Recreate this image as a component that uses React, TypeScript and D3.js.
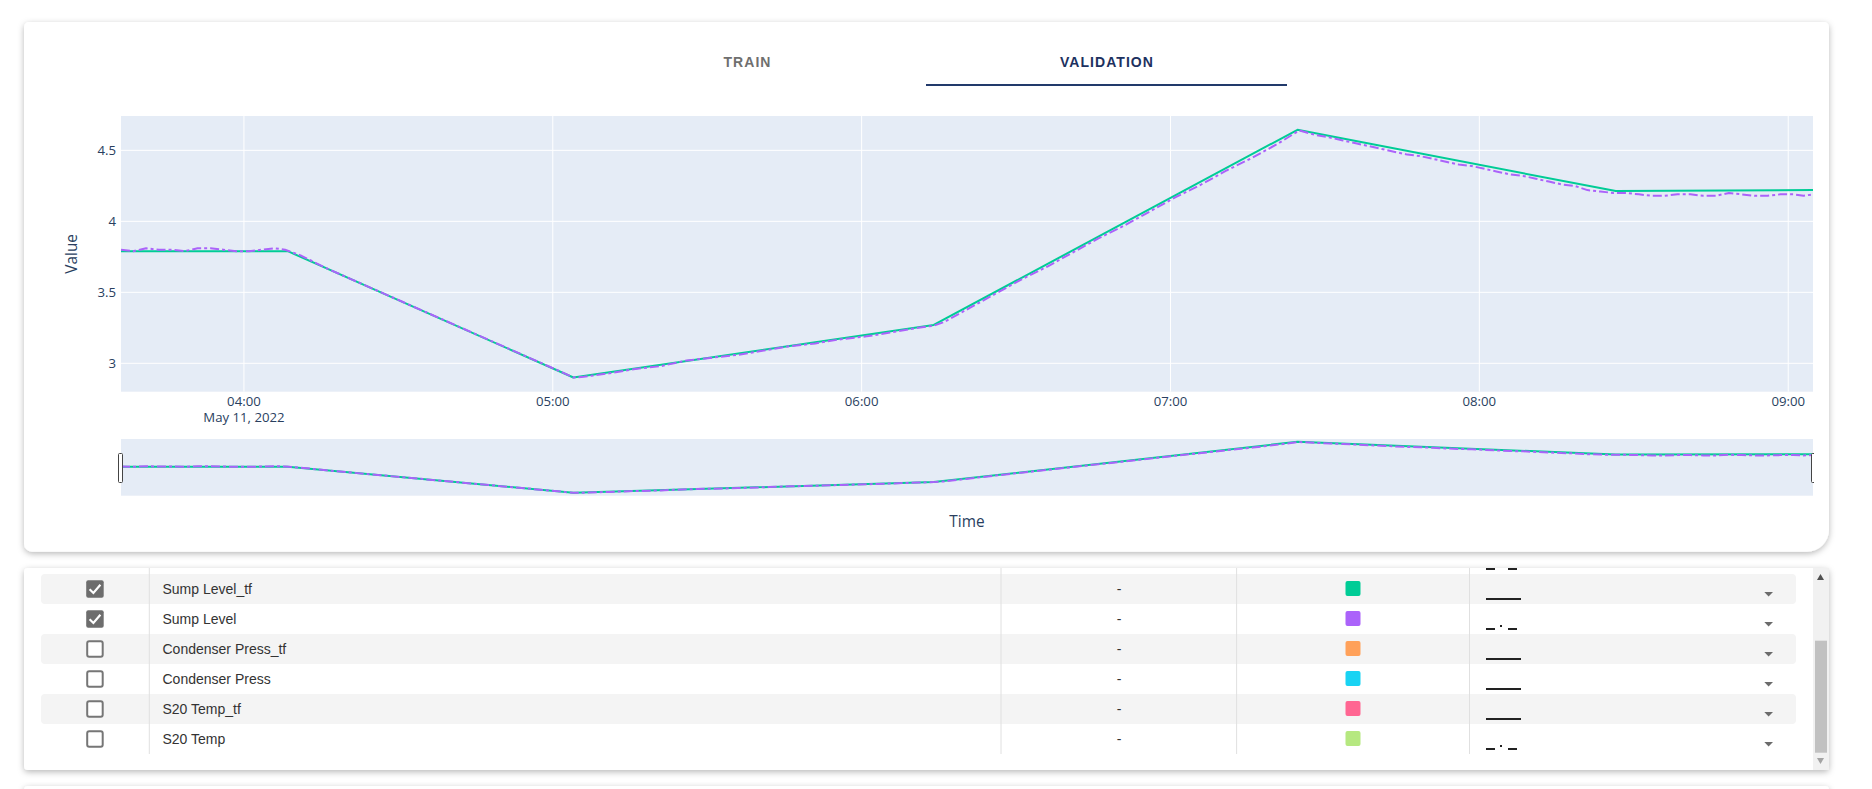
import React from 'react';
import * as d3 from 'd3';

// ---- chart data ----
const tfTimes = ['03:36:07', '04:08:30', '05:04:00', '06:14:00', '07:24:40', '08:26:30', '09:04:49'];
const tfValues = [3.79, 3.79, 2.9, 3.27, 4.645, 4.213, 4.221];

const rawTimes = [
  '03:36:07', '03:38:30', '03:41', '03:43:30', '03:46', '03:48:30', '03:51', '03:53:30', '03:56', '03:58:30',
  '04:01', '04:03:30', '04:06', '04:08', '04:11', '04:16', '04:21',
  '04:26', '04:31', '04:36', '04:41', '04:46', '04:51', '04:56', '05:01', '05:04', '05:06', '05:11',
  '05:16', '05:21', '05:26', '05:31', '05:36', '05:41', '05:46', '05:51', '05:56', '06:01', '06:06',
  '06:11', '06:14', '06:16', '06:21', '06:26', '06:31', '06:36', '06:41', '06:46', '06:51', '06:56',
  '07:01', '07:06', '07:11', '07:16', '07:21', '07:25', '07:28', '07:31', '07:33:30', '07:36', '07:38:30',
  '07:41', '07:46', '07:48:30', '07:51', '07:53:30', '07:56', '07:58:30', '08:01', '08:03:30', '08:06',
  '08:08:30', '08:11', '08:13:30', '08:16', '08:18:30', '08:21', '08:23:30', '08:26', '08:28:30', '08:31',
  '08:33:30', '08:36', '08:38:30', '08:41', '08:43:30', '08:46', '08:48:30', '08:51', '08:53:30', '08:56',
  '08:58:30', '09:01', '09:03', '09:04:49',
];
const rawValues = [
  3.8, 3.79, 3.81, 3.8, 3.8, 3.79, 3.81, 3.81, 3.8, 3.79,
  3.79, 3.8, 3.81, 3.8, 3.76, 3.67, 3.59,
  3.51, 3.43, 3.35, 3.27, 3.19, 3.11, 3.03, 2.95, 2.9, 2.905, 2.93,
  2.96, 2.98, 3.02, 3.04, 3.06, 3.09, 3.12, 3.14, 3.17, 3.19, 3.22,
  3.25, 3.265, 3.29, 3.39, 3.49, 3.59, 3.68, 3.78, 3.88, 3.97, 4.07,
  4.17, 4.26, 4.36, 4.45, 4.55, 4.64, 4.61, 4.59, 4.57, 4.55, 4.53,
  4.51, 4.47, 4.46, 4.44, 4.42, 4.4, 4.39, 4.37, 4.35, 4.33,
  4.32, 4.3, 4.28, 4.26, 4.25, 4.22, 4.21, 4.2, 4.2, 4.19,
  4.18, 4.18, 4.19, 4.19, 4.18, 4.18, 4.2, 4.19, 4.18, 4.18,
  4.19, 4.19, 4.18, 4.19,
];

const yDomain = [2.8, 4.742];
const yTicks = [3, 3.5, 4, 4.5];
const dateLabel = 'May 11, 2022';

// ---- table data ----
const rowNames = ['', 'Sump Level_tf', 'Sump Level', 'Condenser Press_tf', 'Condenser Press', 'S20 Temp_tf', 'S20 Temp'];
const rowChecked = [false, true, true, false, false, false, false];
const rowColors = ['#ffffff', '#00cc96', '#ab63fa', '#ffa15a', '#19d3f3', '#ff6692', '#b6e880'];
const rowStyles = ['dash', 'solid', 'dashdot', 'solid', 'solid', 'solid', 'dashdot'];
const tabs = ['TRAIN', 'VALIDATION'];

const parse = (s: string) => {
  const full = s.length === 5 ? s + ':00' : s;
  return d3.timeParse('%Y-%m-%d %H:%M:%S')('2022-05-11 ' + full) as Date;
};

const roundedRect = (x: number, y: number, w: number, h: number, r: number[]) => {
  const [tl, tr, br, bl] = r;
  return `M${x + tl},${y} H${x + w - tr} A${tr},${tr} 0 0 1 ${x + w},${y + tr} V${y + h - br} A${br},${br} 0 0 1 ${x + w - br},${y + h} H${x + bl} A${bl},${bl} 0 0 1 ${x},${y + h - bl} V${y + tl} A${tl},${tl} 0 0 1 ${x + tl},${y} Z`;
};

const plotFont = '"Open Sans", verdana, arial, sans-serif';
const tableFont = '"Liberation Sans", Arial, sans-serif';

const App: React.FC = () => {
  const tf = tfTimes.map((t, i) => ({ t: parse(t), v: tfValues[i] }));
  const raw = rawTimes.map((t, i) => ({ t: parse(t), v: rawValues[i] }));

  const left = 121, right = 1813, top = 116, bottom = 391.7;
  const rsTop = 439, rsBottom = 495.7;

  const x = d3.scaleTime().domain(d3.extent(tf, d => d.t) as [Date, Date]).range([left, right]);
  const y = d3.scaleLinear().domain(yDomain).range([bottom, top]);
  const yRs = d3.scaleLinear().domain(yDomain).range([rsBottom, rsTop]);

  const line = d3.line<{ t: Date; v: number }>().x(d => x(d.t)).y(d => y(d.v));
  const lineRs = d3.line<{ t: Date; v: number }>().x(d => x(d.t)).y(d => yRs(d.v));
  const xTicks = x.ticks(d3.timeHour.every(1) as d3.TimeInterval);
  const fmt = d3.timeFormat('%H:%M');

  const rowTop0 = 544;
  const colLines = [149.3, 1001, 1236.6, 1469.5];

  return (
    <svg width={1872} height={789} style={{ position: 'absolute', left: 0, top: 0 }}>
      <defs>
        <filter id="shadow" x="-3%" y="-10%" width="106%" height="125%">
          <feDropShadow dx="0" dy="2" stdDeviation="3" floodColor="#000" floodOpacity="0.28" />
        </filter>
        <clipPath id="plotClip"><rect x={left} y={top} width={right - left} height={bottom - top} /></clipPath>
        <clipPath id="rsClip"><rect x={left} y={rsTop} width={right - left} height={rsBottom - rsTop} /></clipPath>
        <clipPath id="tableClip"><rect x={24} y={568} width={1805} height={202} /></clipPath>
      </defs>
      <rect width={1872} height={789} fill="#ffffff" />

      {/* chart card */}
      <path d={roundedRect(24, 22, 1805, 529.7, [5, 5, 22, 8])} fill="#fff" filter="url(#shadow)" />

      {tabs.map((t, i) => (
        <text key={t} x={i === 0 ? 747.5 : 1107} y={67.3} textAnchor="middle" fontFamily={tableFont}
          fontWeight="bold" fontSize={14} letterSpacing={1.05} fill={i === 0 ? '#6f6f6f' : '#1d3160'}>{t}</text>
      ))}
      <rect x={926} y={84} width={361} height={2} fill="#223a6b" />

      {/* main plot */}
      <rect x={left} y={top} width={right - left} height={bottom - top} fill="#e5ecf6" />
      {yTicks.map(v => (
        <line key={v} x1={left} x2={right} y1={y(v)} y2={y(v)} stroke="#fff" strokeWidth={1} />
      ))}
      {xTicks.map(t => (
        <line key={+t} x1={x(t)} x2={x(t)} y1={top} y2={bottom} stroke="#fff" strokeWidth={1} />
      ))}
      <g clipPath="url(#plotClip)" fill="none">
        <path d={line(tf) || ''} stroke="#00cc96" strokeWidth={2} strokeLinejoin="round" />
        <path d={line(raw) || ''} stroke="#ab63fa" strokeWidth={2} strokeDasharray="9,3,3,3" strokeLinejoin="round" />
      </g>
      {yTicks.map(v => (
        <text key={v} x={116} y={y(v) + 4.6} textAnchor="end" fontFamily={plotFont} fontSize={13.2} fill="#2a3f5f">{String(v)}</text>
      ))}
      {xTicks.map((t, i) => (
        <g key={+t}>
          <text x={x(t)} y={405.5} textAnchor="middle" fontFamily={plotFont} fontSize={13.2} fill="#2a3f5f">{fmt(t)}</text>
          {i === 0 && (
            <text x={x(t)} y={421.5} textAnchor="middle" fontFamily={plotFont} fontSize={13.2} fill="#2a3f5f">{dateLabel}</text>
          )}
        </g>
      ))}
      <text transform={`translate(76.5,${(top + bottom) / 2}) rotate(-90)`} textAnchor="middle" fontFamily={plotFont} fontSize={15.4} fill="#2a3f5f">Value</text>

      {/* range slider */}
      <rect x={left} y={rsTop} width={right - left} height={rsBottom - rsTop} fill="#e5ecf6" />
      <g clipPath="url(#rsClip)" fill="none">
        <path d={lineRs(tf) || ''} stroke="#00cc96" strokeWidth={2} />
        <path d={lineRs(raw) || ''} stroke="#ab63fa" strokeWidth={2} strokeDasharray="9,3,3,3" />
      </g>
      <rect x={118.5} y={453.5} width={4} height={29} rx={1} fill="#fff" stroke="#444" strokeWidth={1} />
      <rect x={1811.5} y={453.5} width={4} height={29} rx={1} fill="#fff" stroke="#444" strokeWidth={1} />
      <rect x={1814} y={440} width={10} height={60} fill="#fff" />
      <text x={(left + right) / 2} y={527} textAnchor="middle" fontFamily={plotFont} fontSize={15.4} fill="#2a3f5f">Time</text>

      {/* table card */}
      <path d={roundedRect(24, 568, 1805, 202, [4, 4, 4, 4])} fill="#fff" filter="url(#shadow)" />
      <g clipPath="url(#tableClip)">
        {rowNames.map((name, i) => {
          const rt = rowTop0 + i * 30;
          const cy = rt + 15;
          const lineY = rt + 25;
          return (
            <g key={i}>
              {i % 2 === 1 && <rect x={41} y={rt} width={1755} height={30} rx={4} fill="#f4f4f4" />}
              {i > 0 && (
                <g>
                  {rowChecked[i] ? (
                    <g>
                      <rect x={86.2} y={cy - 8.8} width={17.5} height={17.5} rx={2} fill="#6d6d6d" />
                      <path d={`M89.6,${cy + 0.2} L93.4,${cy + 4} L100.4,${cy - 4.2}`} fill="none" stroke="#fff" strokeWidth={2.2} />
                    </g>
                  ) : (
                    <rect x={87.2} y={cy - 7.8} width={15.5} height={15.5} rx={2} fill="#fff" stroke="#767676" strokeWidth={2} />
                  )}
                  <text x={162.5} y={cy + 4.8} fontFamily={tableFont} fontSize={14} fill="#333">{name}</text>
                  <text x={1119} y={cy + 4.8} textAnchor="middle" fontFamily={tableFont} fontSize={14} fill="#333">-</text>
                  <rect x={1345.5} y={cy - 8} width={15} height={15} rx={2} fill={rowColors[i]} />
                  <path d={`M1764.3,${cy + 3} L1773,${cy + 3} L1768.6,${cy + 7.5} Z`} fill="#6b6b6b" />
                </g>
              )}
              {rowStyles[i] === 'solid' && <rect x={1486} y={lineY - 1} width={35} height={2} fill="#222" />}
              {rowStyles[i] !== 'solid' && (
                <g fill="#222">
                  <rect x={1486} y={lineY - 1} width={9} height={2} />
                  <rect x={1508} y={lineY - 1} width={9} height={2} />
                  {rowStyles[i] === 'dashdot' && <rect x={1500} y={lineY - 4} width={2} height={2} />}
                </g>
              )}
            </g>
          );
        })}
        {colLines.map(cx => (
          <line key={cx} x1={cx} x2={cx} y1={568} y2={754} stroke="#e0e0e0" strokeWidth={1} />
        ))}
        {/* scrollbar */}
        <rect x={1813} y={568} width={16} height={202} fill="#f1f1f1" />
        <rect x={1815} y={640.7} width={12} height={112} fill="#c1c1c1" />
        <path d="M1817,580 L1824,580 L1820.5,574 Z" fill="#505050" />
        <path d="M1817,758 L1824,758 L1820.5,764 Z" fill="#a3a3a3" />
      </g>

      {/* next card edge */}
      <path d={roundedRect(24, 786, 1805, 40, [4, 4, 4, 4])} fill="#fff" filter="url(#shadow)" />
    </svg>
  );
};

export default App;
